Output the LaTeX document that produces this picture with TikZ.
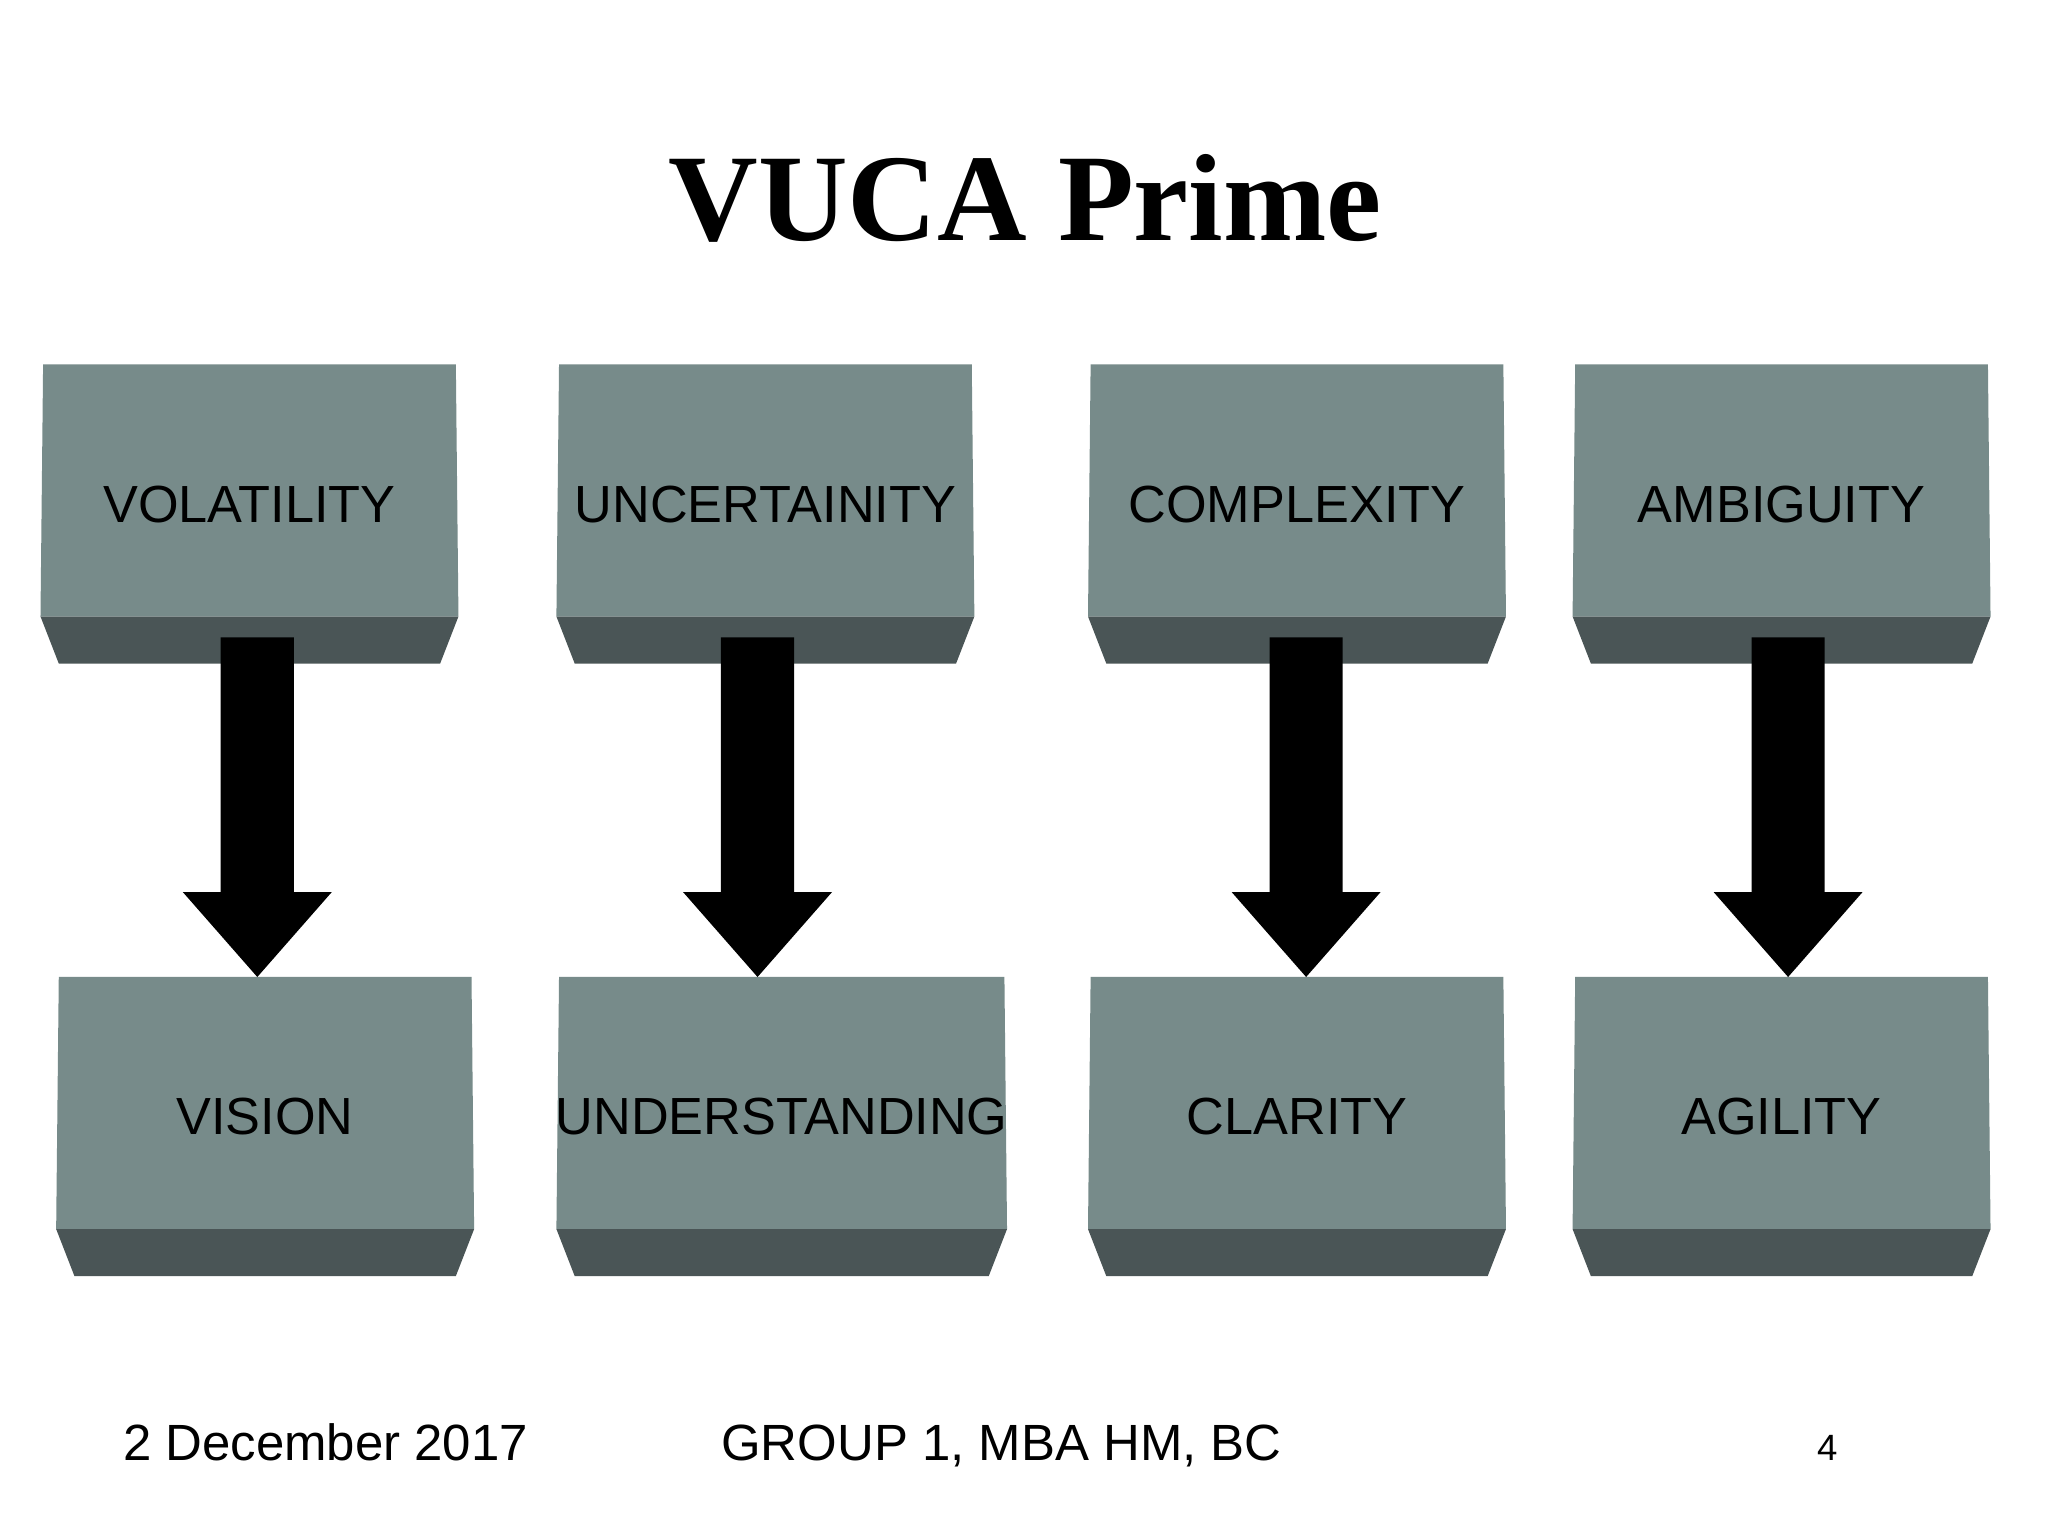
\documentclass[tikz,border=0pt]{standalone}
\usepackage{fontspec}
\setmainfont{Liberation Sans}
\newfontfamily\titlefont{Liberation Serif}
\definecolor{face}{HTML}{778B8A}
\definecolor{bevel}{HTML}{4A5556}
\begin{document}
\begin{tikzpicture}[x=1pt,y=-1pt,
  lbl/.style={font=\fontsize{40}{46}\selectfont,inner sep=0},
  foot/.style={font=\fontsize{39}{44}\selectfont,inner sep=0,anchor=base west}]
\useasboundingbox[fill=white] (0,0) rectangle (1568,1176);
\newcommand\mybox[5]{% x1 x2 ytop name text
  \fill[face] (#1,#3) -- (#2,#3) -- (#2+2,#3+193) -- (#1-2,#3+193) -- cycle;
  \fill[bevel] (#1-2,#3+193) -- (#2+2,#3+193) -- (#2-12,#3+229) -- (#1+12,#3+229) -- cycle;
  \node[lbl] (#4) at ({(#1+#2)/2},#3+107) {#5};}
\mybox{33}{349}{279}{v}{VOLATILITY}
\mybox{428}{744}{279}{u}{UNCERTAINITY}
\mybox{835}{1151}{279}{c}{COMPLEXITY}
\mybox{1206}{1522}{279}{a}{AMBIGUITY}
\mybox{45}{361}{748}{vi}{VISION}
\mybox{428}{769}{748}{un}{UNDERSTANDING}
\mybox{835}{1151}{748}{cl}{CLARITY}
\mybox{1206}{1522}{748}{ag}{AGILITY}
\newcommand\darr[1]{%
  \fill[black] (#1-28,488) -- (#1+28,488) -- (#1+28,683) -- (#1+57,683) -- (#1,748) -- (#1-57,683) -- (#1-28,683) -- cycle;}
\darr{197}\darr{580}\darr{1000}\darr{1369}
\node[font=\titlefont\bfseries\fontsize{95}{100}\selectfont] (t) at (785,152) {VUCA Prime};
\node[foot] (d) at (94,1118) {2 December 2017};
\node[foot] (g) at (552,1118) {GROUP 1, MBA HM, BC};
\node[foot,font=\fontsize{28}{32}\selectfont] (n) at (1391,1118) {4};
\end{tikzpicture}
\end{document}
